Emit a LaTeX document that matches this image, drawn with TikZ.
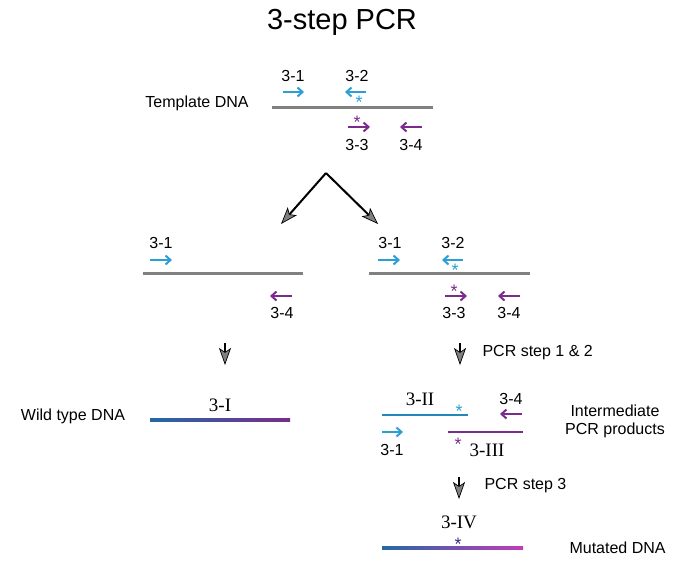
\documentclass[tikz,border=0pt]{standalone}
\usepackage{fontspec}
\setmainfont{Liberation Sans}
\newfontfamily\romanfont{Liberation Serif}
\usetikzlibrary{arrows.meta}
\definecolor{primerblue}{HTML}{2A9FD6}
\definecolor{primerpurple}{HTML}{7A2B8C}
\definecolor{dnagray}{HTML}{808080}
\definecolor{wtblue}{HTML}{2468A8}
\definecolor{mutnavy}{HTML}{3A2C7A}
\definecolor{mutpink}{HTML}{C03CB8}
\tikzset{
  lab/.style={font=\fontsize{16}{18}\selectfont},
  rlab/.style={font=\romanfont\fontsize{19}{21}\selectfont},
  star/.style={font=\fontsize{18}{18}\selectfont,inner sep=0pt},
  template/.style={dnagray,line width=3pt},
  bprimer/.style={primerblue,line width=2pt,-{Straight Barb[length=5pt,width=9pt]}},
  pprimer/.style={primerpurple,line width=2pt,-{Straight Barb[length=5pt,width=9pt]}},
  flow/.style={line width=2pt,-{Stealth[length=17pt,width=12pt,inset=4pt,fill=gray,line width=0.7pt]}}
}
\begin{document}
\begin{tikzpicture}[x=1pt,y=-1pt]
	\useasboundingbox (0,0) rectangle (700,579);
	\node (title) at (342,22) {\fontsize{29}{31}\selectfont 3-step PCR};
	% template with all four primers
	\node[lab] (tmpl) at (197,103) {Template DNA};
	\draw[template] (272,107)--(433,107);
	\node[lab] (p1) at (293,76) {3-1};
	\node[lab] (p2) at (357,76) {3-2};
	\node[lab] (p3) at (357,145) {3-3};
	\node[lab] (p4) at (411,145) {3-4};
	\draw[bprimer] (283,92)--(304,92);
	\draw[bprimer] (366,92)--(345,92);
	\draw[pprimer] (348,127)--(370,127);
	\draw[pprimer] (422,127)--(400,127);
	\node[star,primerblue] (s1) at (359,102) {*};
	\node[star,primerpurple] (s2) at (357,122) {*};
	% split
	\coordinate (split) at (326,173);
	\coordinate (wtin) at (281,224);
	\coordinate (mutin) at (378,224);
	\draw[flow] (split)--(wtin);
	\draw[flow] (split)--(mutin);
	% left: 3-1 and 3-4
	\node[lab] (lp1) at (161,243) {3-1};
	\node[lab] (lp4) at (282,313) {3-4};
	\draw[template] (143,273)--(303,273);
	\draw[bprimer] (150,260)--(172,260);
	\draw[pprimer] (292,296)--(270,296);
	% right: all four
	\node[lab] (rp1) at (390,243) {3-1};
	\node[lab] (rp2) at (453,243) {3-2};
	\node[lab] (rp3) at (454,313) {3-3};
	\node[lab] (rp4) at (509,313) {3-4};
	\draw[template] (369,273)--(530,273);
	\draw[bprimer] (378,260)--(400,260);
	\draw[bprimer] (463,260)--(442,260);
	\draw[pprimer] (445,296)--(467,296);
	\draw[pprimer] (520,296)--(498,296);
	\node[star,primerblue] (s3) at (455,270) {*};
	\node[star,primerpurple] (s4) at (454,291) {*};
	% step arrows
	\coordinate (wta) at (225,343);
	\coordinate (wtb) at (225,365);
	\coordinate (sa) at (460,343);
	\coordinate (sb) at (460,365);
	\draw[flow] (wta)--(wtb);
	\draw[flow] (sa)--(sb);
	\node[lab,anchor=west] (step12) at (479,353) {PCR step 1 \& 2};
	% wild type product
	\node[lab] (wt) at (73,416) {Wild type DNA};
	\node[rlab] (r1) at (220,405) {3-I};
	\shade[left color=wtblue,right color=primerpurple] (150,418.5) rectangle (290,421.5);
	% intermediate products
	\node[rlab] (r2) at (420,399) {3-II};
	\node[lab] (ip4) at (511,399) {3-4};
	\node[lab] (ip1) at (392,450) {3-1};
	\node[rlab] (r3) at (487,450) {3-III};
	\draw[primerblue!85!black,line width=2.5pt] (382,415)--(468,415);
	\draw[primerpurple,line width=2.5pt] (448,432)--(523,432);
	\draw[pprimer] (522,414)--(500,414);
	\draw[bprimer] (382,432)--(403,432);
	\node[star,primerblue] (s5) at (459,411) {*};
	\node[star,primerpurple] (s6) at (458,444) {*};
	\node[lab,align=center] (inter) at (615,421) {Intermediate\\PCR products};
	% step 3
	\coordinate (ta) at (459,477);
	\coordinate (tb) at (459,499);
	\draw[flow] (ta)--(tb);
	\node[lab,anchor=west] (step3) at (481,486) {PCR step 3};
	% mutated product
	\node[rlab] (r4) at (459,522) {3-IV};
	\node[star,mutnavy] (s7) at (458,544) {*};
	\shade[left color=wtblue,middle color=mutnavy,right color=mutpink] (382,546.5) rectangle (523,549.5);
	\node[lab,anchor=west] (mut) at (566,548) {Mutated DNA};
\end{tikzpicture}
\end{document}
